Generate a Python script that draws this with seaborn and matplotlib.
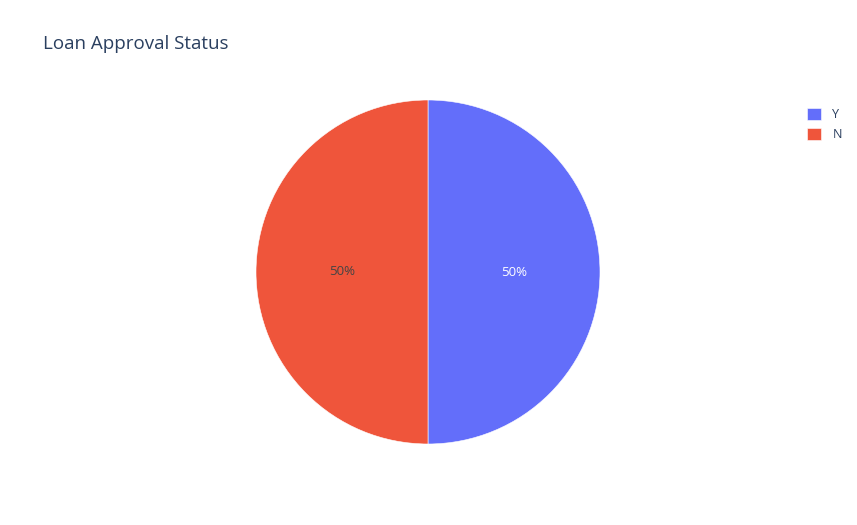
import matplotlib
matplotlib.use("Agg")
import matplotlib.pyplot as plt
import seaborn as sns

# Loan approval counts (50% / 50%)
labels = ["Y", "N"]
counts = [50, 50]
colors = ["#636efa", "#EF553B"]
text_colors = ["white", "#444444"]

sns.set_theme(style="white")
plt.rcParams["font.family"] = ["Open Sans", "DejaVu Sans"]
palette = sns.color_palette(colors)

fig = plt.figure(figsize=(8.57, 5.25), dpi=100)
# pie centred at ~(428, 272) px with radius ~172 px
ax = fig.add_axes([256 / 857, (525 - 272 - 172) / 525, 344 / 857, 344 / 525])

wedges, texts, autotexts = ax.pie(
    counts,
    colors=palette,
    startangle=90,
    counterclock=False,
    autopct="%1.0f%%",
    pctdistance=0.5,
    radius=1.0,
    wedgeprops=dict(edgecolor="white", linewidth=0.4),
    textprops=dict(fontsize=9.5),
)
for t, c in zip(autotexts, text_colors):
    t.set_color(c)
ax.set_aspect("equal")
ax.set_xlim(-1, 1)
ax.set_ylim(-1, 1)
ax.axis("off")

fig.text(43 / 857, 1 - 44 / 525, "Loan Approval Status", fontsize=13.5,
         color="#2a3f5f", va="center", ha="left")

fig.legend(wedges, labels, loc="upper left", bbox_to_anchor=(796 / 857, 1 - 97 / 525),
           frameon=False, fontsize=9, labelcolor="#2a3f5f",
           handlelength=1.1, handleheight=1.1, handletextpad=0.9, labelspacing=0.5)

fig.savefig("out.png", dpi=100)
